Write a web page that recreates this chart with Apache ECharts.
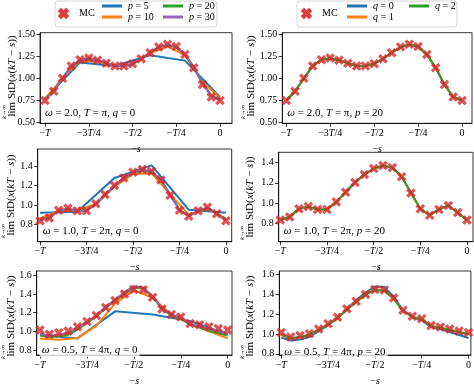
<!DOCTYPE html>
<html>
<head>
<meta charset="utf-8">
<script src="https://cdn.jsdelivr.net/npm/echarts@6/dist/echarts.min.js"></script>
<style>html,body{margin:0;padding:0;background:#fff}#c{width:474px;height:387px}</style>
</head>
<body>
<div id="c"></div>
<script>
// ---------- data ----------
const s20 = [-1,-0.95,-0.9,-0.85,-0.8,-0.75,-0.7,-0.65,-0.6,-0.55,-0.5,-0.45,-0.4,-0.35,-0.3,-0.25,-0.2,-0.15,-0.1,-0.05,0];
const s10 = [-1,-0.9,-0.8,-0.7,-0.6,-0.5,-0.4,-0.3,-0.2,-0.1,0];
const s5  = [-1,-0.8,-0.6,-0.4,-0.2,0];

const xTickValues = [-1,-0.75,-0.5,-0.25,0];
const xTickLabels = ['−T','−3T/4','−T/2','−T/4','0'];
const yTicksRow1 = [0.5,0.75,1.0,1.25,1.5];
const yTicksRow2 = [0.8,1.0,1.2,1.4];
const yTicksRow3 = [0.8,1.0,1.2,1.4,1.6];

// omega = 2.0, T = pi
const mc1  = [0.75,0.855,1.00,1.14,1.21,1.23,1.205,1.17,1.14,1.14,1.165,1.22,1.29,1.355,1.385,1.36,1.27,1.12,0.93,0.79,0.75];
const p5_1  = [0.77,1.18,1.14,1.26,1.20,0.79];
const p10_1 = [0.77,1.00,1.20,1.19,1.14,1.16,1.28,1.36,1.26,0.96,0.78];
const p20_1 = [0.76,0.86,1.00,1.13,1.20,1.22,1.20,1.17,1.14,1.14,1.16,1.22,1.29,1.35,1.375,1.35,1.27,1.13,0.95,0.81,0.76];
const p30_1 = [0.755,0.855,1.00,1.14,1.21,1.23,1.205,1.17,1.14,1.14,1.165,1.22,1.29,1.355,1.38,1.36,1.27,1.12,0.94,0.80,0.755];
const q0_1 = [0.75,0.855,1.00,1.135,1.21,1.225,1.205,1.17,1.14,1.14,1.165,1.22,1.29,1.35,1.38,1.36,1.27,1.12,0.93,0.79,0.75];
const q1_1 = [0.75,0.855,1.00,1.14,1.21,1.225,1.205,1.17,1.14,1.14,1.165,1.22,1.29,1.35,1.38,1.36,1.27,1.12,0.93,0.79,0.75];
const q2_1 = [0.75,0.855,1.00,1.14,1.21,1.225,1.205,1.17,1.14,1.14,1.165,1.22,1.29,1.35,1.38,1.36,1.27,1.12,0.93,0.79,0.75];

// omega = 1.0, T = 2pi
const mc2  = [0.836,0.865,0.945,0.967,0.94,0.94,1.013,1.108,1.203,1.28,1.34,1.368,1.348,1.26,1.10,0.945,0.883,0.94,0.978,0.91,0.836];
const p5_2  = [0.92,0.93,1.28,1.41,0.95,0.92];
const p10_2 = [0.86,0.94,0.945,1.01,1.19,1.32,1.33,1.11,0.90,0.96,0.86];
const p20_2 = [0.85,0.87,0.94,0.96,0.94,0.945,1.01,1.10,1.20,1.275,1.33,1.355,1.34,1.26,1.11,0.95,0.89,0.935,0.97,0.915,0.85];
const p30_2 = [0.84,0.865,0.945,0.965,0.94,0.94,1.013,1.108,1.20,1.28,1.34,1.368,1.35,1.26,1.10,0.945,0.885,0.94,0.975,0.91,0.84];
const q0_2 = [0.836,0.865,0.945,0.965,0.94,0.94,1.013,1.108,1.203,1.28,1.34,1.366,1.348,1.26,1.10,0.945,0.883,0.94,0.976,0.91,0.836];
const q1_2 = [0.836,0.865,0.945,0.965,0.94,0.94,1.013,1.108,1.203,1.28,1.34,1.366,1.348,1.26,1.10,0.945,0.883,0.94,0.976,0.91,0.836];
const q2_2 = [0.836,0.865,0.945,0.965,0.94,0.94,1.013,1.108,1.203,1.28,1.34,1.366,1.348,1.26,1.10,0.945,0.883,0.94,0.976,0.91,0.836];

// omega = 0.5, T = 4pi
const mc3  = [1.015,0.97,0.985,1.003,1.05,1.105,1.17,1.255,1.33,1.40,1.45,1.445,1.365,1.24,1.18,1.155,1.085,1.07,1.05,1.03,1.015];
const p5_3  = [0.96,0.925,1.215,1.18,1.11,0.97];
const p10_3 = [0.925,0.91,0.93,1.06,1.30,1.44,1.36,1.18,1.08,1.00,0.925];
const p20_3 = [0.955,0.94,0.945,0.965,1.02,1.09,1.16,1.25,1.33,1.40,1.47,1.46,1.37,1.24,1.17,1.14,1.07,1.04,1.01,0.98,0.955];
const p30_3 = [0.975,0.955,0.965,0.985,1.04,1.10,1.17,1.26,1.34,1.42,1.485,1.47,1.38,1.25,1.18,1.15,1.08,1.055,1.03,1.00,0.975];
const q0_3 = [0.965,0.935,0.945,0.97,1.03,1.09,1.16,1.25,1.34,1.42,1.48,1.475,1.38,1.24,1.17,1.14,1.07,1.05,1.02,0.99,0.96];
const q1_3 = [0.99,0.955,0.965,0.99,1.04,1.095,1.16,1.25,1.33,1.40,1.45,1.44,1.36,1.23,1.17,1.15,1.085,1.065,1.045,1.02,1.00];
const q2_3 = [1.00,0.96,0.97,0.995,1.04,1.095,1.16,1.245,1.325,1.395,1.445,1.44,1.36,1.235,1.175,1.15,1.08,1.06,1.04,1.02,1.00];

const annotations = [
  '{i|ω} = 2.0, {i|T} = π, {i|q} = 0', '{i|ω} = 2.0, {i|T} = π, {i|p} = 20',
  '{i|ω} = 1.0, {i|T} = 2π, {i|q} = 0', '{i|ω} = 1.0, {i|T} = 2π, {i|p} = 20',
  '{i|ω} = 0.5, {i|T} = 4π, {i|q} = 0', '{i|ω} = 0.5, {i|T} = 4π, {i|p} = 20'
];

// ---------- style / layout ----------
const FONT = 'Liberation Serif';
const C = {blue:'#1f77b4', orange:'#ff7f0e', green:'#2ca02c', purple:'#9467bd', red:'#d62728'};
const XPATH = 'path://M2.2,0 L5,2.8 L7.8,0 L10,2.2 L7.2,5 L10,7.8 L7.8,10 L5,7.2 L2.2,10 L0,7.8 L2.8,5 L0,2.2 Z';

const panels = [
  {l:40,    t:32.7,  w:192,   h:90.6, xmin:-1.0286, xmax:0.0686, ymin:0.493, ymax:1.515, yt:yTicksRow1, dec:2},
  {l:282.3, t:32.7,  w:189.7, h:90.6, xmin:-1.0227, xmax:0.0568, ymin:0.493, ymax:1.515, yt:yTicksRow1, dec:2},
  {l:37.7,  t:149,   w:194,   h:92.7, xmin:-1.0124, xmax:0.0306, ymin:0.62,  ymax:1.58,  yt:yTicksRow2, dec:1},
  {l:278.7, t:152.3, w:194.3, h:89.4, xmin:-1.0086, xmax:0.032,  ymin:0.624, ymax:1.498, yt:yTicksRow2, dec:1},
  {l:36.7,  t:271,   w:195.3, h:90,   xmin:-1.0176, xmax:0.023,  ymin:0.747, ymax:1.647, yt:yTicksRow3, dec:1},
  {l:279.3, t:271,   w:192.4, h:91.3, xmin:-1.0106, xmax:0.0128, ymin:0.788, ymax:1.637, yt:yTicksRow3, dec:1}
];

const rich = {i:{fontStyle:'italic', fontFamily:FONT, fontSize:10, color:'#000'}};
const richA = {i:{fontStyle:'italic', fontFamily:FONT, fontSize:11, color:'#000'}};

const grids = [], xAxes = [], yAxes = [], titles = [];
panels.forEach((p, i) => {
  grids.push({left:p.l, top:p.t, width:p.w, height:p.h, show:true, borderColor:'#000', borderWidth:0.8, containLabel:false});
  xAxes.push({
    type:'value', gridIndex:i, min:p.xmin, max:p.xmax,
    name:'−{i|s}', nameLocation:'middle', nameGap:21,
    nameTextStyle:{fontFamily:FONT, fontSize:10, color:'#000', rich:rich},
    axisLine:{show:true, onZero:false, lineStyle:{color:'#000', width:0.8}},
    axisTick:{show:true, customValues:xTickValues, length:3.5, lineStyle:{color:'#000', width:0.8}},
    axisLabel:{customValues:xTickValues, margin:5, fontFamily:FONT, fontSize:10, color:'#000', rich:rich,
      formatter: v => { const k = xTickValues.findIndex(t => Math.abs(t - v) < 1e-9); const s = k >= 0 ? xTickLabels[k] : ''; return s.replace(/T/g, '{i|T}'); }},
    splitLine:{show:false}
  });
  yAxes.push({
    type:'value', gridIndex:i, min:p.ymin, max:p.ymax,
    axisLine:{show:true, onZero:false, lineStyle:{color:'#000', width:0.8}},
    axisTick:{show:true, customValues:p.yt, length:3.5, lineStyle:{color:'#000', width:0.8}},
    axisLabel:{customValues:p.yt, margin:5, fontFamily:FONT, fontSize:10, color:'#000', formatter: v => v.toFixed(p.dec)},
    splitLine:{show:false}
  });
  titles.push({
    text: annotations[i], left: p.l + 3, top: p.t + p.h - 17,
    padding:[1,2], backgroundColor:'rgba(255,255,255,0.8)',
    textStyle:{fontFamily:FONT, fontSize:11, fontWeight:'normal', color:'#000', rich:richA}
  });
});

function line(i, name, xs, ys, color, z) {
  return {type:'line', name:name, xAxisIndex:i, yAxisIndex:i, data: xs.map((x, k) => [x, ys[k]]),
    symbol:'none', color:color, lineStyle:{color:color, width:2}, z:z, animation:false};
}
function mc(i, ys) {
  return {type:'scatter', name:'MC', xAxisIndex:i, yAxisIndex:i, data: s20.map((x, k) => [x, ys[k]]),
    symbol:XPATH, symbolSize:9, color:C.red, itemStyle:{color:C.red, borderColor:C.red, borderWidth:0.5}, z:10, animation:false};
}

const series = [
  line(0,'p = 5',s5,p5_1,C.blue,2), line(0,'p = 10',s10,p10_1,C.orange,3), line(0,'p = 20',s20,p20_1,C.green,4), line(0,'p = 30',s20,p30_1,C.purple,5), mc(0,mc1),
  line(1,'q = 0',s20,q0_1,C.blue,2), line(1,'q = 1',s20,q1_1,C.orange,3), line(1,'q = 2',s20,q2_1,C.green,4), mc(1,mc1),
  line(2,'p = 5',s5,p5_2,C.blue,2), line(2,'p = 10',s10,p10_2,C.orange,3), line(2,'p = 20',s20,p20_2,C.green,4), line(2,'p = 30',s20,p30_2,C.purple,5), mc(2,mc2),
  line(3,'q = 0',s20,q0_2,C.blue,2), line(3,'q = 1',s20,q1_2,C.orange,3), line(3,'q = 2',s20,q2_2,C.green,4), mc(3,mc2),
  line(4,'p = 5',s5,p5_3,C.blue,2), line(4,'p = 10',s10,p10_3,C.orange,3), line(4,'p = 20',s20,p20_3,C.green,4), line(4,'p = 30',s20,p30_3,C.purple,5), mc(4,mc3),
  line(5,'q = 0',s20,q0_3,C.blue,2), line(5,'q = 1',s20,q1_3,C.orange,3), line(5,'q = 2',s20,q2_3,C.green,4), mc(5,mc3)
];

// legends
const legTS = {fontFamily:FONT, fontSize:10, color:'#000', rich:rich, padding:[0,0,0,1]};
function legLine(name, left, top) {
  return {data:[name], left:left, top:top, padding:0, icon:'rect', itemWidth:20, itemHeight:3,
    formatter: n => n.replace(/^([pq])/, '{i|$1}'), textStyle:legTS, selectedMode:false};
}
function legMC(left, top) {
  return {data:['MC'], left:left, top:top, padding:0, icon:XPATH, itemWidth:9, itemHeight:9,
    textStyle:{fontFamily:FONT, fontSize:10, color:'#000', padding:[0,0,0,6]}, selectedMode:false};
}
const legends = [
  legMC(58, 8), legLine('p = 5', 102, 1), legLine('p = 10', 102, 12), legLine('p = 20', 163, 1), legLine('p = 30', 163, 12),
  legMC(301, 8), legLine('q = 0', 347, 1), legLine('q = 1', 347, 12), legLine('q = 2', 409, 1)
];

// y-axis titles (rotated)
const yTitle = '{r|lim StD(}{i|x}{r|(}{i|kT}{r| − }{i|s}{r|))}';
const yRich = {r:{fontFamily:FONT, fontSize:11, fill:'#000'}, i:{fontFamily:FONT, fontSize:11, fontStyle:'italic', fill:'#000'}};
const titlePos = [[12,76],[251,76],[11,195],[250,197],[11,316],[250,316]];
const graphics = [
  {type:'rect', shape:{x:55, y:1, width:162, height:26, r:3}, style:{fill:'#fff', stroke:'#cccccc', lineWidth:0.8}, z:-1},
  {type:'rect', shape:{x:297, y:1, width:160, height:26, r:3}, style:{fill:'#fff', stroke:'#cccccc', lineWidth:0.8}, z:-1}
];
titlePos.forEach(([x, y]) => {
  graphics.push({type:'text', x:x, y:y, rotation:Math.PI/2,
    style:{text:yTitle, rich:yRich, align:'center', verticalAlign:'middle', fill:'#000', font:'11px ' + FONT}});
  graphics.push({type:'text', x:x - 8, y:y + 36, rotation:Math.PI/2,
    style:{text:'k→∞', align:'center', verticalAlign:'middle', fill:'#000', font:'italic 6.5px ' + FONT}});
});

const chart = echarts.init(document.getElementById('c'), null, {renderer:'canvas'});
chart.setOption({
  animation:false,
  title: titles,
  grid: grids, xAxis: xAxes, yAxis: yAxes,
  legend: legends,
  graphic: graphics,
  series: series
});
</script>
</body>
</html>
